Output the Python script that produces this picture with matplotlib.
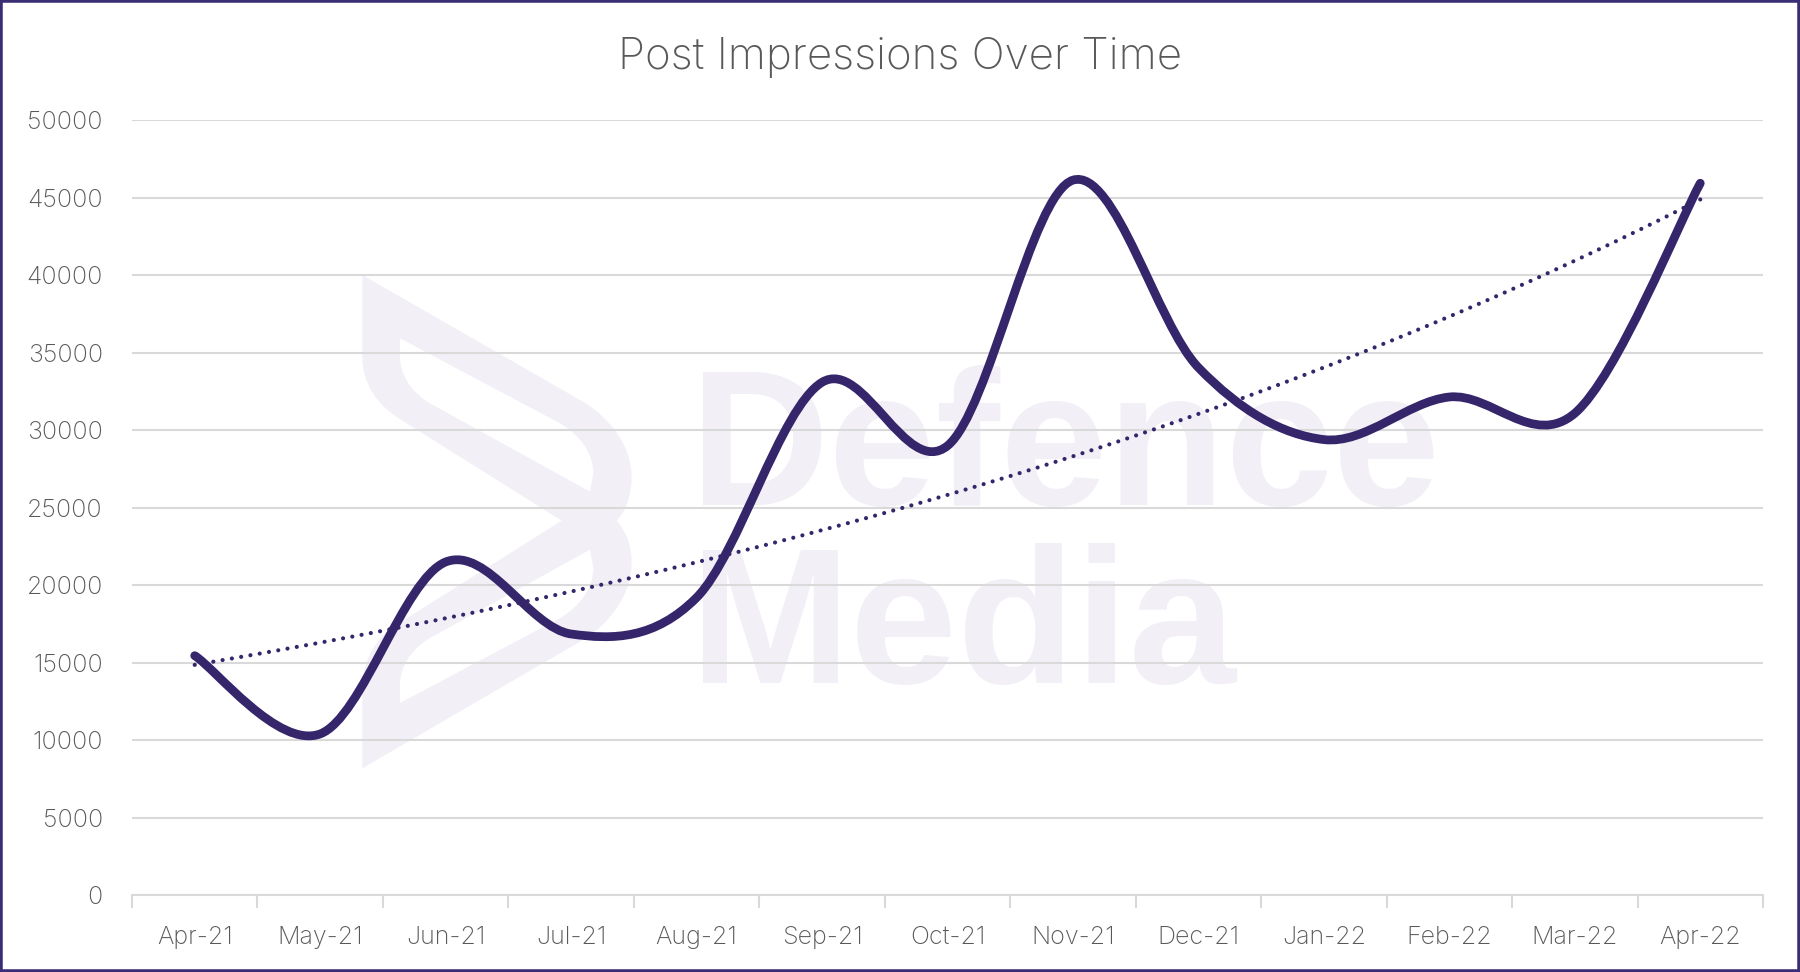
import numpy as np
import matplotlib
matplotlib.use("Agg")
import matplotlib.pyplot as plt
from matplotlib.path import Path
from matplotlib.patches import PathPatch, Rectangle

months = ["Apr-21", "May-21", "Jun-21", "Jul-21", "Aug-21", "Sep-21", "Oct-21",
          "Nov-21", "Dec-21", "Jan-22", "Feb-22", "Mar-22", "Apr-22"]
impressions = [15450, 10400, 21500, 16850, 19200, 33100, 29000,
               46150, 34050, 29400, 32150, 31100, 45950]
y_ticks = [0, 5000, 10000, 15000, 20000, 25000, 30000, 35000, 40000, 45000, 50000]
title = "Post Impressions Over Time"

LINE = "#35266b"
GRID = "#d9d9d9"
TXT = "#595959"
WM = "#f2f0f6"

plt.rcParams['font.family'] = ['Inter', 'DejaVu Sans']

W, H = 1800, 972
fig = plt.figure(figsize=(W / 100, H / 100), dpi=100)
fig.patch.set_facecolor("white")
ax = fig.add_axes([132 / W, 1 - 895 / H, (1763 - 132) / W, (895 - 120.5) / H])
ax.set_facecolor("none")
ax.set_zorder(2)

# ---- watermark (logo + text), figure pixel coordinates ----
def P(dx, dy):
    return ((340 + dx / 3) / W, 1 - (260 + dy / 3) / H)

M, L, C = Path.MOVETO, Path.LINETO, Path.CURVE4
verts, codes = [], []
def seg(code, *pts):
    for p in pts:
        verts.append(P(*p))
        codes.append(code)

# outer
seg(M, (67, 45)); seg(L, (720, 420))
seg(C, (810, 470), (875, 560), (875, 650))
seg(C, (875, 720), (850, 760), (830, 782))
seg(C, (850, 805), (875, 845), (875, 910))
seg(C, (875, 1000), (810, 1095), (720, 1145))
seg(L, (67, 1525)); seg(L, (67, 1280))
seg(C, (67, 1200), (110, 1120), (200, 1075))
seg(L, (665, 782)); seg(L, (200, 490))
seg(C, (110, 440), (67, 370), (67, 290))
seg(Path.CLOSEPOLY, (67, 45))
# upper hole (reversed orientation)
seg(M, (180, 235)); seg(L, (180, 290))
seg(C, (180, 340), (210, 395), (270, 430))
seg(L, (750, 695)); seg(L, (760, 640))
seg(C, (760, 580), (720, 525), (660, 490))
seg(Path.CLOSEPOLY, (180, 235))
# lower hole
seg(M, (180, 1329)); seg(L, (660, 1074))
seg(C, (720, 1039), (760, 984), (760, 924))
seg(L, (750, 869)); seg(L, (270, 1134))
seg(C, (210, 1169), (180, 1224), (180, 1274))
seg(Path.CLOSEPOLY, (180, 1329))

logo = PathPatch(Path(verts, codes), transform=fig.transFigure,
                 facecolor=WM, edgecolor="none", zorder=-1)
fig.patches.append(logo)
fig.text(689 / W, 1 - 505 / H, "Defence", family=["Liberation Sans", "DejaVu Sans"],
         fontweight="bold", fontsize=139, color=WM, ha="left", va="baseline", zorder=-1)
fig.text(689 / W, 1 - 683 / H, "Media", family=["Liberation Sans", "DejaVu Sans"],
         fontweight="bold", fontsize=139, color=WM, ha="left", va="baseline", zorder=-1)

# ---- smooth line (Catmull-Rom / Excel-like bezier) ----
x = np.arange(len(months), dtype=float)
y = np.array(impressions, dtype=float)
n = len(x)
sv, sc = [(x[0], y[0])], [Path.MOVETO]
for i in range(n - 1):
    x0, y0 = (x[i - 1], y[i - 1]) if i > 0 else (x[i], y[i])
    x3, y3 = (x[i + 2], y[i + 2]) if i + 2 < n else (x[i + 1], y[i + 1])
    c1 = (x[i] + (x[i + 1] - x0) / 6, y[i] + (y[i + 1] - y0) / 6)
    c2 = (x[i + 1] - (x3 - x[i]) / 6, y[i + 1] - (y3 - y[i]) / 6)
    sv += [c1, c2, (x[i + 1], y[i + 1])]
    sc += [Path.CURVE4] * 3
curve = PathPatch(Path(sv, sc), facecolor="none", edgecolor=LINE, lw=6.3,
                  capstyle="round", joinstyle="round", zorder=4)
ax.add_patch(curve)

# ---- exponential trendline ----
b, a = np.polyfit(x, np.log(y), 1)
xt = np.linspace(x[0], x[-1], 300)
ax.plot(xt, np.exp(a + b * xt), color=LINE, lw=3.0, linestyle=(0, (0.01, 2.25)),
        dash_capstyle="round", zorder=3)

# ---- axes styling ----
ax.set_xlim(-0.5, n - 0.5)
ax.set_ylim(0, 50000)
ax.set_yticks(y_ticks)
ax.set_yticklabels([str(v) for v in y_ticks])
ax.set_xticks(x)
ax.set_xticklabels(months)
ax.set_xticks(np.arange(-0.5, n, 1.0), minor=True)
ax.grid(axis="y", color=GRID, lw=1.5, zorder=1)
ax.set_axisbelow(True)
for s in ["top", "right", "left"]:
    ax.spines[s].set_visible(False)
ax.spines["bottom"].set_color(GRID)
ax.spines["bottom"].set_linewidth(1.5)
ax.tick_params(axis="y", length=0, pad=21, labelsize=18, labelcolor=TXT)
ax.tick_params(axis="x", which="major", length=0, pad=22, labelsize=18, labelcolor=TXT)
ax.tick_params(axis="x", which="minor", length=9, width=1.5, color=GRID)
for lab in ax.get_xticklabels() + ax.get_yticklabels():
    lab.set_fontweight("light")

fig.text(900 / W, 1 - 57 / H, title, ha="center", va="center", fontsize=31.5,
         color=TXT, fontweight="light")

# frame
fig.patches.append(Rectangle((0, 0), 1, 1, transform=fig.transFigure, fill=False,
                             edgecolor="#3b2d73", lw=4, zorder=10))

fig.savefig("out.png", dpi=100, facecolor="white")
